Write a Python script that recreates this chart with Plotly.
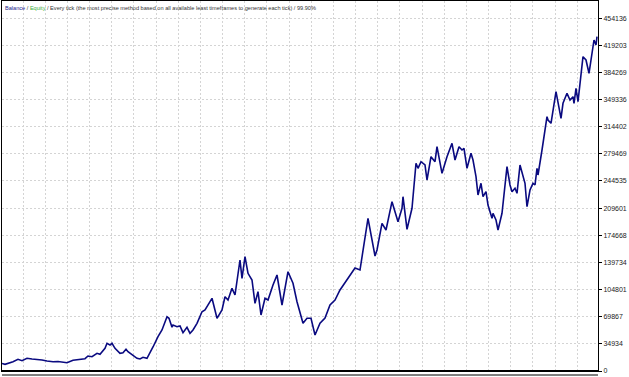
import plotly.graph_objects as go

# trade number (x) and balance (y)
trades = [0, 3, 11, 16, 20, 25, 30, 35, 40, 45, 51, 56, 61, 65, 71, 78, 83, 86, 90, 95, 98,
          103, 105, 108, 110, 113, 118, 121, 124, 126, 130, 135, 138, 141, 145, 148, 151,
          156, 160, 165, 167, 170, 171, 175, 178, 181, 185, 188, 191, 195, 200, 203, 206,
          210, 215, 220, 223, 226, 230, 233, 238, 240, 243, 246, 250, 253, 256, 259, 263,
          266, 271, 275, 280, 286, 291, 295, 301, 305, 309, 313, 318, 323, 328, 333, 338,
          343, 348, 353, 358, 361, 366, 373, 375, 380, 384, 390, 393, 396, 400, 401, 405,
          410, 414, 416, 419, 423, 425, 429, 433, 435, 440, 445, 450, 453, 457, 460, 462,
          465, 469, 471, 474, 476, 479, 481, 484, 486, 490, 491, 494, 496, 500, 505, 508,
          510, 513, 515, 518, 523, 525, 528, 531, 533, 535, 536, 540, 544, 545, 546, 549,
          554, 559, 561, 565, 568, 571, 572, 574, 576, 581, 584, 587, 592, 594, 595]
balance = [9650, 8621, 11966, 15054, 13253, 16341, 15440, 15054, 14154, 12867, 11966, 12224,
           11580, 10680, 13768, 15440, 15826, 19301, 18400, 22775, 21488, 29208, 35642,
           33454, 35642, 29208, 22775, 23547, 27921, 24833, 20587, 16341, 15440, 17628,
           16341, 22775, 30881, 44134, 52755, 69868, 67809, 56229, 59188, 57001, 57902,
           49281, 56229, 48509, 52755, 61376, 76301, 78489, 84922, 93543, 67809, 78489,
           95602, 91356, 106410, 97789, 142824, 119277, 147070, 125711, 117090, 87110,
           102035, 72055, 93543, 91356, 110656, 123523, 84922, 127769, 112844, 89168,
           61376, 67809, 67809, 46321, 61376, 68195, 84922, 91356, 104223, 113230, 123523,
           132530, 129957, 155691, 196479, 147971, 155691, 190046, 181425, 217838, 204971,
           192104, 209345, 224272, 182326, 209345, 267248, 260815, 269306, 265060, 245760,
           275740, 269306, 288607, 254381, 275740, 292981, 271494, 288607, 284361, 286548,
           260815, 280115, 271494, 250006, 226459, 241514, 224272, 230705, 213592, 196479,
           202913, 194292, 181425, 202913, 262873, 239326, 230705, 235080, 228647, 265060,
           241514, 211404, 232893, 241514, 239326, 260815, 252193, 284361, 316528, 327208,
           322962, 318716, 359375, 325150, 344450, 357317, 348696, 352945, 344450, 363750,
           346508, 404410, 400164, 383050, 425898, 419464, 430143]

y_ticks = [0, 34934, 69867, 104801, 139734, 174668, 209601, 244535, 279469, 314402,
           349336, 384269, 419203, 454136]
y_max = 476080
x_max = 596

fig = go.Figure()
fig.add_trace(go.Scatter(x=trades, y=balance, mode="lines",
                         line=dict(color="#0a0a80", width=1.6), hoverinfo="skip"))

grid = dict(showgrid=True, gridcolor="#d4d4d4", griddash="2px,2px", gridwidth=1,
            zeroline=False, showline=True, mirror=True, linecolor="black", linewidth=1)

fig.update_layout(
    width=629, height=377,
    margin=dict(l=2, r=31, t=1, b=6),
    paper_bgcolor="white", plot_bgcolor="white",
    showlegend=False,
    xaxis=dict(range=[0, x_max], showticklabels=False, ticks="",
               tick0=21, dtick=22.17, **grid),
    yaxis=dict(range=[0, y_max], side="right", tickmode="array", tickvals=y_ticks,
               ticktext=[str(v) for v in y_ticks], ticks="outside", ticklen=3,
               tickcolor="black",
               tickfont=dict(family="Liberation Sans, Arial, sans-serif",
                             size=7, color="#222222"),
               **grid),
)

fig.add_shape(type="line", xref="paper", yref="paper", x0=0, x1=1, y0=0, y1=0,
              line=dict(color="black", width=2))
fig.add_shape(type="line", xref="paper", yref="paper", x0=0, x1=1,
              y0=-4 / 370, y1=-4 / 370, line=dict(color="black", width=1))

fig.add_annotation(
    xref="paper", yref="paper", x=0.002, y=1, xanchor="left", yanchor="top",
    showarrow=False, yshift=-2,
    text=("<span style='color:#1a1a8c'>Balance</span> / "
          "<span style='color:#3cae3c'>Equity</span> / Every tick (the most precise method "
          "based on all available least timeframes to generate each tick) / 99.90%"),
    font=dict(family="Liberation Sans, Arial, sans-serif", size=5.6, color="#333333"),
)

fig.write_html("out.html")
